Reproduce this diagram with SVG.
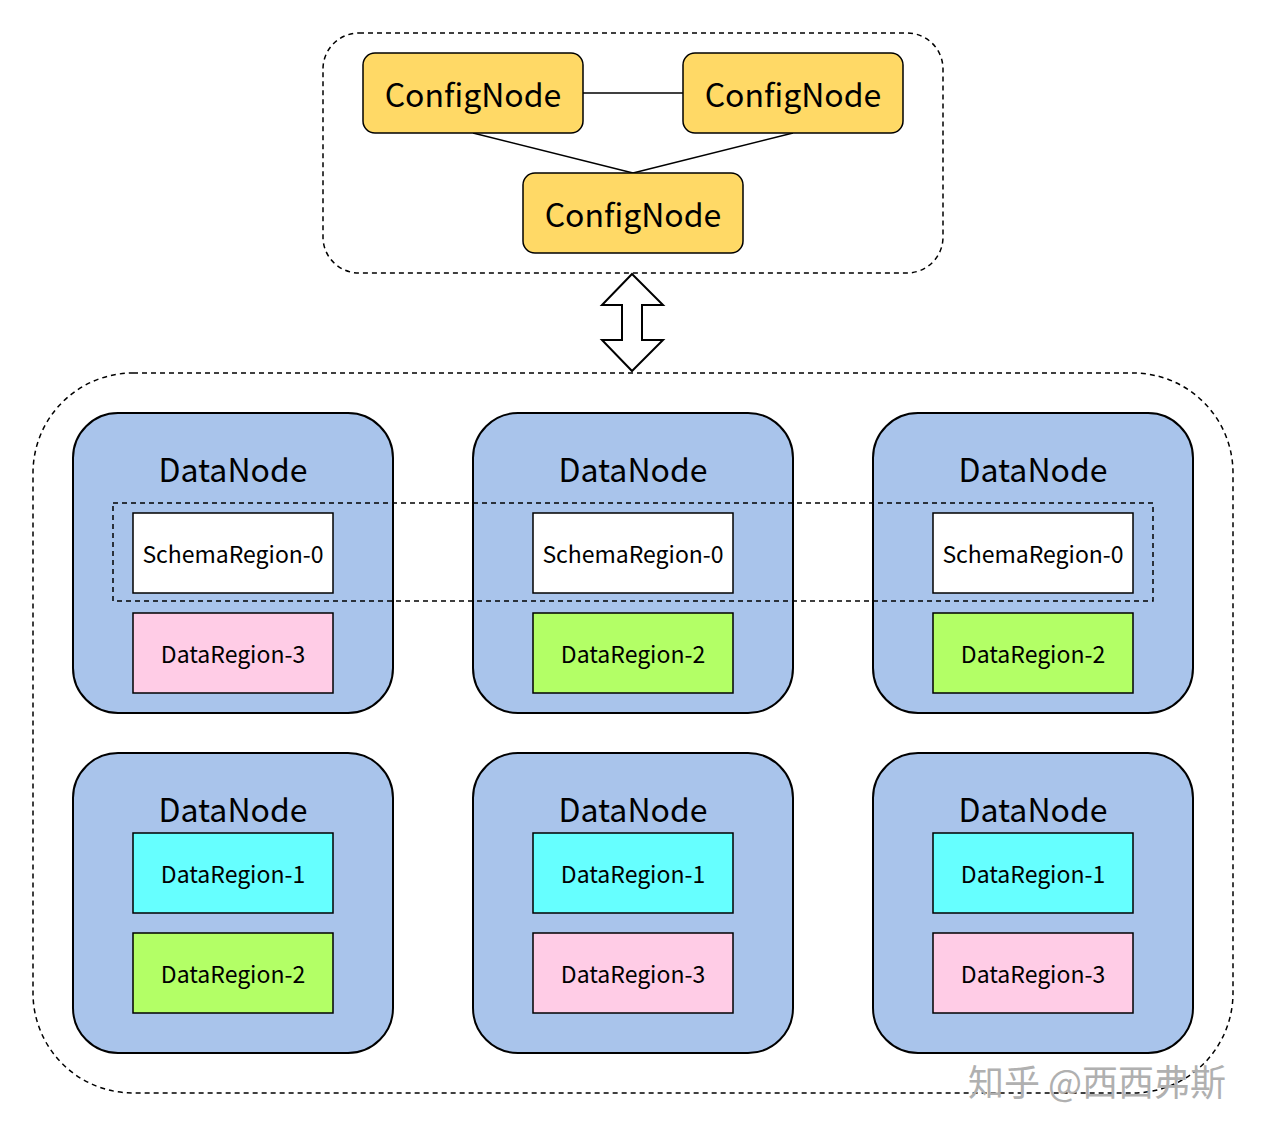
<svg xmlns="http://www.w3.org/2000/svg" width="1266" height="1134" viewBox="0 0 1266 1134">
<style>
.dash{fill:none;stroke:#000;stroke-width:1.5;stroke-dasharray:5 4}
.cn rect{fill:#ffd966;stroke:#000;stroke-width:1.5}
.dn rect.b{fill:#a9c4eb;stroke:#000;stroke-width:2}
.dn rect.r{stroke:#000;stroke-width:1.5}
text{font-family:"Noto Sans CJK SC","Noto Sans",sans-serif;text-anchor:middle;dominant-baseline:central;fill:#000}
.t1{font-size:32px}.t2{font-size:23px}
.dn rect.w{fill:#fff}.dn rect.p{fill:#ffcce6}.dn rect.g{fill:#b3ff66}.dn rect.c{fill:#66ffff}
</style>
<rect width="1266" height="1134" fill="#fff"/>
<rect class="dash" x="323" y="33" width="620" height="240" rx="36"/>
<rect class="dash" x="33" y="373" width="1200" height="720" rx="100"/>
<g id="connectors" stroke="#000" stroke-width="1.5" fill="none">
<line x1="583" y1="93" x2="683" y2="93"/>
<line x1="473" y1="133" x2="633" y2="173"/>
<line x1="793" y1="133" x2="633" y2="173"/>
<polygon fill="#fff" stroke-width="2" points="632,274 663,305 642,305 642,340 663,340 632,371 602,340 622,340 622,305 602,305"/>
</g>
<g id="cn1" class="cn"><rect x="363" y="53" width="220" height="80" rx="12"/><text class="t1" x="473" y="93">ConfigNode</text></g>
<g id="cn2" class="cn"><rect x="683" y="53" width="220" height="80" rx="12"/><text class="t1" x="793" y="93">ConfigNode</text></g>
<g id="cn3" class="cn"><rect x="523" y="173" width="220" height="80" rx="12"/><text class="t1" x="633" y="213">ConfigNode</text></g>
<g id="dn1" class="dn"><rect class="b" x="73" y="413" width="320" height="300" rx="45"/><text class="t1" x="233" y="468">DataNode</text>
<rect class="r w" x="133" y="513" width="200" height="80"/><text class="t2" x="233" y="553">SchemaRegion-0</text>
<rect class="r p" x="133" y="613" width="200" height="80"/><text class="t2" x="233" y="653">DataRegion-3</text></g>
<g id="dn2" class="dn"><rect class="b" x="473" y="413" width="320" height="300" rx="45"/><text class="t1" x="633" y="468">DataNode</text>
<rect class="r w" x="533" y="513" width="200" height="80"/><text class="t2" x="633" y="553">SchemaRegion-0</text>
<rect class="r g" x="533" y="613" width="200" height="80"/><text class="t2" x="633" y="653">DataRegion-2</text></g>
<g id="dn3" class="dn"><rect class="b" x="873" y="413" width="320" height="300" rx="45"/><text class="t1" x="1033" y="468">DataNode</text>
<rect class="r w" x="933" y="513" width="200" height="80"/><text class="t2" x="1033" y="553">SchemaRegion-0</text>
<rect class="r g" x="933" y="613" width="200" height="80"/><text class="t2" x="1033" y="653">DataRegion-2</text></g>
<g id="dn4" class="dn"><rect class="b" x="73" y="753" width="320" height="300" rx="45"/><text class="t1" x="233" y="808">DataNode</text>
<rect class="r c" x="133" y="833" width="200" height="80"/><text class="t2" x="233" y="873">DataRegion-1</text>
<rect class="r g" x="133" y="933" width="200" height="80"/><text class="t2" x="233" y="973">DataRegion-2</text></g>
<g id="dn5" class="dn"><rect class="b" x="473" y="753" width="320" height="300" rx="45"/><text class="t1" x="633" y="808">DataNode</text>
<rect class="r c" x="533" y="833" width="200" height="80"/><text class="t2" x="633" y="873">DataRegion-1</text>
<rect class="r p" x="533" y="933" width="200" height="80"/><text class="t2" x="633" y="973">DataRegion-3</text></g>
<g id="dn6" class="dn"><rect class="b" x="873" y="753" width="320" height="300" rx="45"/><text class="t1" x="1033" y="808">DataNode</text>
<rect class="r c" x="933" y="833" width="200" height="80"/><text class="t2" x="1033" y="873">DataRegion-1</text>
<rect class="r p" x="933" y="933" width="200" height="80"/><text class="t2" x="1033" y="973">DataRegion-3</text></g>
<rect class="dash" x="113" y="503" width="1040" height="98"/>
<text x="1097" y="1080" font-size="36" style="fill:#b0b0b0">知乎 @西西弗斯</text>
</svg>
